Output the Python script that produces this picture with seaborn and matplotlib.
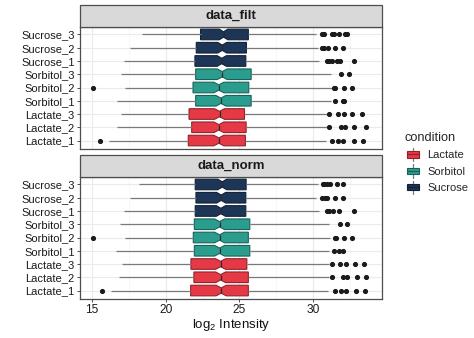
import numpy as np
import pandas as pd
import matplotlib
matplotlib.use("Agg")
import matplotlib.pyplot as plt
from matplotlib.patches import Rectangle
from matplotlib.lines import Line2D
from matplotlib.legend_handler import HandlerBase
import matplotlib.colors as mcolors
import seaborn as sns

# ---- data -------------------------------------------------------------
samples = ["Lactate_1", "Lactate_2", "Lactate_3",
           "Sorbitol_1", "Sorbitol_2", "Sorbitol_3",
           "Sucrose_1", "Sucrose_2", "Sucrose_3"]
conditions = ["Lactate"] * 3 + ["Sorbitol"] * 3 + ["Sucrose"] * 3
condition_levels = ["Lactate", "Sorbitol", "Sucrose"]
palette_colors = ["#E63946", "#2A9D8F", "#1D3557"]
datasets = ["data_filt", "data_norm"]
x_ticks = [15, 20, 25, 30]

# box summaries of log2 intensity per sample (order as in `samples`)
filt_whisker_lo = [16.17, 16.70, 16.96, 16.70, 17.23, 16.96, 17.20, 17.60, 18.38]
filt_q1 = [21.53, 21.76, 21.58, 22.03, 21.85, 22.03, 21.98, 22.07, 22.36]
filt_median = [23.60, 23.60, 23.65, 23.74, 23.60, 23.83, 23.80, 23.83, 23.92]
filt_q3 = [25.40, 25.45, 25.34, 25.79, 25.63, 25.79, 25.43, 25.47, 25.60]
filt_whisker_hi = [30.86, 30.95, 30.90, 31.20, 31.26, 31.20, 30.36, 30.30, 30.20]
filt_outliers = [
    [15.54, 31.30, 31.70, 32.05, 32.77, 33.38],
    [31.10, 31.87, 32.14, 32.77, 33.56],
    [31.04, 31.70, 32.10, 32.66, 33.33],
    [31.48, 32.00, 32.10],
    [15.05, 31.40, 31.50, 32.10, 32.60],
    [31.90, 32.43],
    [30.90, 31.08, 31.24, 31.64, 31.80, 32.77],
    [30.62, 30.75, 30.97, 31.50, 32.05],
    [30.60, 30.75, 31.24, 31.40, 31.75, 32.14, 32.30],
]

norm_whisker_lo = [16.28, 16.82, 17.07, 16.60, 17.27, 16.90, 17.20, 17.57, 18.20]
norm_q1 = [21.69, 21.91, 21.71, 21.94, 21.87, 21.94, 22.00, 22.05, 22.00]
norm_median = [23.76, 23.72, 23.72, 23.65, 23.65, 23.65, 23.74, 23.76, 23.83]
norm_q3 = [25.60, 25.60, 25.50, 25.70, 25.60, 25.70, 25.43, 25.43, 25.45]
norm_whisker_hi = [31.00, 31.10, 31.10, 31.10, 31.13, 31.10, 30.36, 30.20, 30.30]
norm_outliers = [
    [15.70, 31.50, 31.87, 32.20, 32.90, 33.50],
    [31.24, 32.00, 32.30, 32.97, 33.60],
    [31.25, 31.80, 32.20, 32.80, 33.45],
    [31.40, 31.76, 32.00],
    [15.05, 31.45, 31.55, 32.10, 32.60],
    [31.80, 32.30],
    [30.90, 31.10, 31.35, 31.75, 32.77],
    [30.60, 30.80, 30.95, 31.50, 32.00],
    [30.65, 30.75, 30.95, 31.15, 31.60, 32.00],
]

summaries = {
    "data_filt": (filt_whisker_lo, filt_q1, filt_median, filt_q3, filt_whisker_hi, filt_outliers),
    "data_norm": (norm_whisker_lo, norm_q1, norm_median, norm_q3, norm_whisker_hi, norm_outliers),
}


def rebuild(lo, q1, med, q3, hi, extra, block=100):
    """Intensity values whose box statistics equal the given summary."""
    return np.concatenate([[lo], np.full(block, q1), np.full(block, med),
                           np.full(block, q3), [hi], extra])


rows = []
for ds in datasets:
    lo, q1, med, q3, hi, outl = summaries[ds]
    for i, s in enumerate(samples):
        vals = rebuild(lo[i], q1[i], med[i], q3[i], hi[i], outl[i])
        rows.append(pd.DataFrame({"dataset": ds, "sample": s,
                                  "condition": conditions[i], "intensity": vals}))
df = pd.concat(rows, ignore_index=True)

# ---- style ------------------------------------------------------------
sns.set_theme(style="white")
plt.rcParams["font.family"] = ["Liberation Sans", "DejaVu Sans"]
plt.rcParams["mathtext.fontset"] = "custom"
plt.rcParams["mathtext.rm"] = "Liberation Sans"
plt.rcParams["mathtext.it"] = "Liberation Sans:italic"

W, H = 474, 338
fig = plt.figure(figsize=(W / 100, H / 100), dpi=100)

palette = dict(zip(condition_levels, palette_colors))
sample_order = samples[::-1]  # Sucrose_3 on top


def fpx(x0, y0, x1, y1):
    return [x0 / W, 1 - y1 / H, (x1 - x0) / W, (y1 - y0) / H]


panel_px = {"data_filt": (80, 26.5, 381.7, 148.5),
            "data_norm": (80, 176.5, 381.7, 298.5)}
strip_h_px = 21.5

for ds in datasets:
    x0, y0, x1, y1 = panel_px[ds]
    ax = fig.add_axes(fpx(x0, y0, x1, y1))
    sub = df[df["dataset"] == ds]
    sns.boxplot(data=sub, x="intensity", y="sample", hue="condition",
                order=sample_order, hue_order=condition_levels, palette=palette,
                dodge=False, width=0.8, saturation=1, orient="h", legend=False,
                whis=1.5, shownotches=True, showcaps=False, linewidth=0.7,
                whiskerprops={"color": "#7a7a7a", "linewidth": 0.9},
                medianprops={"color": "#2b2b2b", "linewidth": 0.9},
                flierprops={"marker": "o", "markersize": 2.7,
                            "markerfacecolor": "#1a1a1a",
                            "markeredgecolor": "#1a1a1a"},
                ax=ax, zorder=3)
    # darker outline in each box's own hue
    for p in ax.patches:
        fc = np.array(mcolors.to_rgb(p.get_facecolor()))
        p.set_edgecolor(tuple(fc * 0.62))
        p.set_linewidth(0.8)

    ax.set_xlim(14.19, 34.64)
    ax.set_ylim(8.6, -0.6)
    ax.set_xticks(x_ticks)
    ax.set_xticks([17.5, 22.5, 27.5, 32.5], minor=True)
    ax.grid(True, which="major", axis="both", color="#ebebeb", linewidth=0.8, zorder=0)
    ax.grid(True, which="minor", axis="x", color="#f4f4f4", linewidth=0.5, zorder=0)
    ax.set_axisbelow(True)
    for sp in ax.spines.values():
        sp.set_color("#4d4d4d")
        sp.set_linewidth(0.9)
    ax.set_ylabel("")
    ax.tick_params(axis="y", labelsize=8, colors="#333333", labelcolor="#1a1a1a",
                   length=2.2, width=0.6, pad=1.5, left=True)
    if ds == "data_norm":
        ax.tick_params(axis="x", which="major", labelsize=8.6, colors="#333333",
                       labelcolor="#1a1a1a", length=2.2, width=0.6, pad=1.5, bottom=True)
        ax.tick_params(axis="x", which="minor", length=0)
        ax.set_xlabel(r"$\mathregular{log_2}$ Intensity", fontsize=9.5,
                      color="#111111", labelpad=1.0)
    else:
        ax.tick_params(axis="x", which="both", length=0, labelbottom=False)
        ax.set_xlabel("")

    # facet strip
    sh = strip_h_px / (y1 - y0)
    ax.add_patch(Rectangle((0, 1), 1, sh, transform=ax.transAxes, clip_on=False,
                           facecolor="#d9d9d9", edgecolor="#4d4d4d", linewidth=0.9,
                           zorder=5))
    ax.text(0.5, 1 + sh / 2, ds, transform=ax.transAxes, ha="center", va="center",
            fontsize=9.5, fontweight="bold", color="#1a1a1a", zorder=6)


# legend with small boxplot glyphs
class BoxKey(HandlerBase):
    def create_artists(self, legend, orig_handle, xdescent, ydescent,
                       width, height, fontsize, trans):
        fc = orig_handle.get_facecolor()
        ec = tuple(np.array(mcolors.to_rgb(fc)) * 0.62)
        x0, y0 = -xdescent, -ydescent
        cx = x0 + width / 2
        bw, bh = width * 0.72, height * 0.55
        by = y0 + (height - bh) / 2
        wl = dict(color="#7a7a7a", linewidth=0.9, transform=trans)
        a1 = Line2D([cx, cx], [y0 - height * 0.1, by], **wl)
        a2 = Line2D([cx, cx], [by + bh, y0 + height * 1.1], **wl)
        box = Rectangle((cx - bw / 2, by), bw, bh, facecolor=fc, edgecolor=ec,
                        linewidth=0.8, transform=trans)
        med = Line2D([cx - bw / 2, cx + bw / 2], [by + bh / 2] * 2,
                     color=ec, linewidth=0.9, transform=trans)
        return [a1, a2, box, med]


handles = [Rectangle((0, 0), 1, 1, facecolor=c) for c in palette_colors]
leg = fig.legend(handles, condition_levels, handler_map={Rectangle: BoxKey()},
                 loc="upper left", bbox_to_anchor=(397 / W, 1 - 124 / H),
                 frameon=False, title="condition", fontsize=8,
                 title_fontsize=9.2, handlelength=1.5, handleheight=1.2,
                 handletextpad=0.5, labelspacing=0.45, borderpad=0.2)
leg._legend_box.align = "left"

fig.savefig("out.png", dpi=100)
